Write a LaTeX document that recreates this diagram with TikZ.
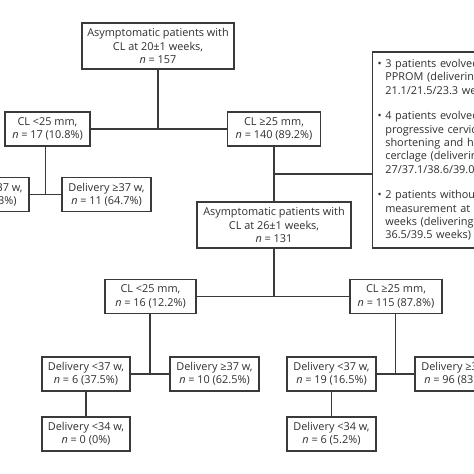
\documentclass[tikz,border=0pt]{standalone}
\usepackage{fontspec}
\setmainfont{Open Sans}
\usetikzlibrary{positioning,calc}
\definecolor{ln}{HTML}{3A3A3A}
\definecolor{tx}{HTML}{303030}
\tikzset{
  box/.style={draw=ln,line width=1.2pt,fill=white,align=center,inner sep=1pt,text=tx,
    font=\fontsize{10.9}{13.4}\selectfont,minimum height=34pt},
  tall/.style={box,minimum height=46pt},
  note/.style={box,align=left,anchor=west,inner sep=5pt,minimum height=196pt,text width=150pt},
  link/.style={draw=ln,line width=1.2pt},
}
\newcommand{\nn}{\textit{n}}
\begin{document}
\begin{tikzpicture}[x=1pt,y=-1pt]
\useasboundingbox (0,0) rectangle (474,474);
\clip (0,0) rectangle (474,474);
\node[tall,minimum width=152pt] (top) at (158,46) {Asymptomatic patients with\\CL at 20±1 weeks,\\\nn{} = 157};
\node[box,minimum width=85pt] (lo1) at (47.5,129) {CL <25 mm,\\\nn{} = 17 (10.8\%)};
\node[box,minimum width=93pt] (hi1) at (274,129) {CL ≥25 mm,\\\nn{} = 140 (89.2\%)};
\node[box,minimum width=89pt] (dl1) at (-15.5,194.5) {Delivery <37 w,\\\nn{} = 6 (35.3\%)};
\node[box,minimum width=89pt] (dg1) at (106.5,194.5) {Delivery ≥37 w,\\\nn{} = 11 (64.7\%)};
\node[tall,minimum width=154pt] (top2) at (274,225) {Asymptomatic patients with\\CL at 26±1 weeks,\\\nn{} = 131};
\node[note] (note) at (372,150) {%
• 3 patients evolved with\\\hphantom{• }PPROM (delivering at\\\hphantom{• }21.1/21.5/23.3 weeks)\\[12pt]
• 4 patients evolved with\\\hphantom{• }progressive cervical\\\hphantom{• }shortening and had\\\hphantom{• }cerclage (delivering at\\\hphantom{• }27/37.1/38.6/39.0 weeks)\\[12pt]
• 2 patients without CL\\\hphantom{• }measurement at 26±1\\\hphantom{• }weeks (delivering at\\\hphantom{• }36.5/39.5 weeks)};
\node[box,minimum width=91pt] (lo2) at (150.5,296.5) {CL <25 mm,\\\nn{} = 16 (12.2\%)};
\node[box,minimum width=92pt] (hi2) at (396,296.5) {CL ≥25 mm,\\\nn{} = 115 (87.8\%)};
\node[box,minimum width=88pt] (dl2) at (86,374) {Delivery <37 w,\\\nn{} = 6 (37.5\%)};
\node[box,minimum width=89pt] (dg2) at (214.5,374) {Delivery ≥37 w,\\\nn{} = 10 (62.5\%)};
\node[box,minimum width=89pt] (dl3) at (331.5,374) {Delivery <37 w,\\\nn{} = 19 (16.5\%)};
\node[box,minimum width=89pt] (dg3) at (459.5,374) {Delivery ≥37 w,\\\nn{} = 96 (83.5\%)};
\node[box,minimum width=88pt] (ds2) at (86,434) {Delivery <34 w,\\\nn{} = 0 (0\%)};
\node[box,minimum width=89pt] (ds3) at (331.5,434) {Delivery <34 w,\\\nn{} = 6 (5.2\%)};
\coordinate (j1) at (top.south |- lo1.east);
\coordinate (j2) at ($(dl1.east)!0.5!(dg1.west)$);
\coordinate (j3) at ($(hi1.south)!0.5!(top2.north)$);
\coordinate (j4) at (top2.south |- lo2.east);
\coordinate (j5) at ($(dl2.east)!0.5!(dg2.west)$);
\coordinate (j6) at ($(dl3.east)!0.5!(dg3.west)$);
\draw[link] (lo1.east) -- (hi1.west);
\draw[link] (top.south) -- (j1);
\draw[link] (dl1.east) -- (dg1.west);
\draw[link] (lo1.south -| j2) -- (j2);
\draw[link] (hi1.south) -- (top2.north);
\draw[link] (j3) -- (j3 -| note.west);
\draw[link] (lo2.east) -- (hi2.west);
\draw[link] (top2.south) -- (j4);
\draw[link] (dl2.east) -- (dg2.west);
\draw[link] (lo2.south -| j5) -- (j5);
\draw[link] (dl3.east) -- (dg3.west);
\draw[link] (hi2.south -| j6) -- (j6);
\draw[link] (dl2) -- (ds2);
\draw[link] (dl3) -- (ds3);
\end{tikzpicture}
\end{document}
